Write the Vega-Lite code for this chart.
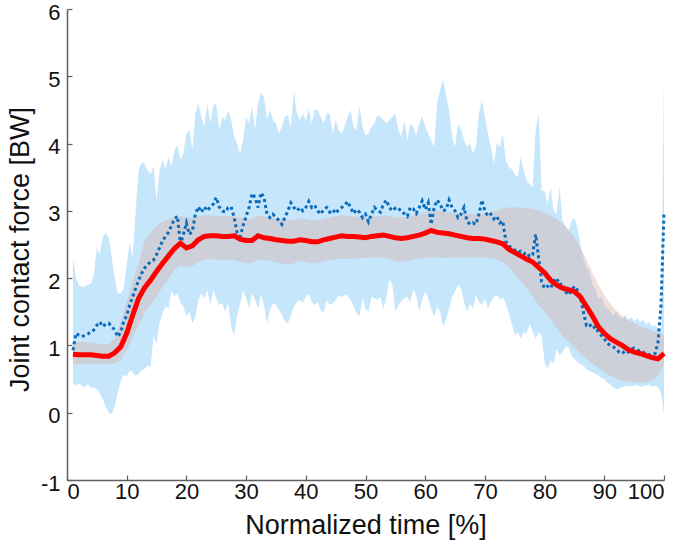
{
  "$schema": "https://vega.github.io/schema/vega-lite/v6.json",
  "autosize": "none",
  "width": 597,
  "height": 471,
  "padding": {"left": 67, "top": 9, "right": 21, "bottom": 64},
  "background": "white",
  "datasets": {
    "band": [
      {"x":1,"lo":0.45,"hi":2.3,"d":0.93},{"x":1.5,"lo":0.41,"hi":2.0,"d":1.18},{"x":2,"lo":0.43,"hi":1.9,"d":1.15},{"x":2.5,"lo":0.4,"hi":1.87,"d":1.13},
      {"x":3,"lo":0.38,"hi":1.88,"d":1.15},{"x":3.5,"lo":0.43,"hi":1.9,"d":1.17},{"x":4,"lo":0.36,"hi":1.92,"d":1.2},{"x":4.5,"lo":0.38,"hi":2.05,"d":1.23},
      {"x":5,"lo":0.35,"hi":2.45,"d":1.3},{"x":5.5,"lo":0.29,"hi":2.35,"d":1.35},{"x":6,"lo":0.2,"hi":2.62,"d":1.28},{"x":6.5,"lo":0.09,"hi":2.67,"d":1.32},
      {"x":7,"lo":0.0,"hi":2.6,"d":1.33},{"x":7.5,"lo":-0.02,"hi":2.3,"d":1.28},{"x":8,"lo":0.1,"hi":2.0,"d":1.23},{"x":8.5,"lo":0.3,"hi":1.78,"d":1.13},
      {"x":9,"lo":0.47,"hi":1.77,"d":1.2},{"x":9.5,"lo":0.56,"hi":1.85,"d":1.35},{"x":10,"lo":0.54,"hi":2.2,"d":1.45},{"x":10.5,"lo":0.63,"hi":2.54,"d":1.6},
      {"x":11,"lo":0.6,"hi":2.3,"d":1.72},{"x":11.5,"lo":0.55,"hi":3.0,"d":1.85},{"x":12,"lo":0.58,"hi":3.6,"d":1.97},{"x":12.5,"lo":0.63,"hi":3.72,"d":2.07},
      {"x":13,"lo":0.65,"hi":3.7,"d":2.15},{"x":13.5,"lo":0.7,"hi":3.6,"d":2.2},{"x":14,"lo":0.68,"hi":3.55,"d":2.25},{"x":14.5,"lo":1.13,"hi":3.66,"d":2.27},
      {"x":15,"lo":1.03,"hi":3.16,"d":2.35},{"x":15.5,"lo":1.33,"hi":3.6,"d":2.45},{"x":16,"lo":1.48,"hi":3.76,"d":2.55},{"x":16.5,"lo":1.58,"hi":3.62,"d":2.62},
      {"x":17,"lo":1.55,"hi":3.8,"d":2.68},{"x":17.5,"lo":1.82,"hi":3.65,"d":2.78},{"x":18,"lo":1.73,"hi":3.9,"d":2.88},{"x":18.5,"lo":1.77,"hi":3.98,"d":2.92},
      {"x":19,"lo":1.63,"hi":3.76,"d":2.5},{"x":19.5,"lo":1.58,"hi":3.85,"d":2.65},{"x":20,"lo":1.43,"hi":4.15,"d":2.82},{"x":20.5,"lo":1.5,"hi":4.2,"d":2.65},
      {"x":21,"lo":1.33,"hi":3.9,"d":2.7},{"x":21.5,"lo":1.42,"hi":4.45,"d":2.95},{"x":22,"lo":1.68,"hi":4.6,"d":3.06},{"x":22.5,"lo":1.77,"hi":4.4,"d":2.98},
      {"x":23,"lo":1.7,"hi":4.25,"d":3.06},{"x":23.5,"lo":1.82,"hi":4.6,"d":3.0},{"x":24,"lo":1.6,"hi":4.3,"d":3.06},{"x":24.5,"lo":1.82,"hi":4.57,"d":3.1},
      {"x":25,"lo":1.7,"hi":4.6,"d":3.2},{"x":25.5,"lo":1.6,"hi":4.2,"d":3.06},{"x":26,"lo":1.63,"hi":4.4,"d":3.0},{"x":26.5,"lo":1.5,"hi":4.35,"d":2.98},
      {"x":27,"lo":1.63,"hi":4.5,"d":3.05},{"x":27.5,"lo":1.28,"hi":4.35,"d":3.06},{"x":28,"lo":1.15,"hi":4.1,"d":2.9},{"x":28.5,"lo":1.45,"hi":4.0,"d":2.67},
      {"x":29,"lo":1.62,"hi":3.85,"d":2.62},{"x":29.5,"lo":1.82,"hi":4.05,"d":2.78},{"x":30,"lo":1.7,"hi":4.4,"d":2.92},{"x":30.5,"lo":1.55,"hi":4.3,"d":3.05},
      {"x":31,"lo":1.77,"hi":4.55,"d":3.26},{"x":31.5,"lo":1.68,"hi":4.2,"d":3.2},{"x":32,"lo":1.55,"hi":4.6,"d":3.05},{"x":32.5,"lo":1.75,"hi":4.75,"d":3.27},
      {"x":33,"lo":1.6,"hi":4.7,"d":3.2},{"x":33.5,"lo":1.33,"hi":4.35,"d":2.95},{"x":34,"lo":1.53,"hi":4.5,"d":2.9},{"x":34.5,"lo":1.63,"hi":4.35,"d":2.95},
      {"x":35,"lo":1.6,"hi":4.3,"d":2.9},{"x":35.5,"lo":1.53,"hi":4.15,"d":2.86},{"x":36,"lo":1.45,"hi":4.25,"d":2.8},{"x":36.5,"lo":1.36,"hi":4.4,"d":2.9},
      {"x":37,"lo":1.33,"hi":4.42,"d":3.0},{"x":37.5,"lo":1.45,"hi":4.25,"d":3.12},{"x":38,"lo":1.58,"hi":4.77,"d":3.05},{"x":38.5,"lo":1.65,"hi":4.45,"d":3.0},
      {"x":39,"lo":1.67,"hi":4.35,"d":3.05},{"x":39.5,"lo":1.63,"hi":4.45,"d":3.0},{"x":40,"lo":1.72,"hi":4.33,"d":3.05},{"x":40.5,"lo":1.77,"hi":4.52,"d":3.14},
      {"x":41,"lo":1.65,"hi":4.3,"d":3.05},{"x":41.5,"lo":1.6,"hi":4.5,"d":3.08},{"x":42,"lo":1.64,"hi":4.5,"d":3.0},{"x":42.5,"lo":1.52,"hi":4.4,"d":2.95},
      {"x":43,"lo":1.48,"hi":4.3,"d":3.02},{"x":43.5,"lo":1.68,"hi":4.45,"d":3.05},{"x":44,"lo":1.6,"hi":4.45,"d":2.98},{"x":44.5,"lo":1.63,"hi":4.15,"d":3.02},
      {"x":45,"lo":1.67,"hi":4.35,"d":2.96},{"x":45.5,"lo":1.74,"hi":4.2,"d":3.02},{"x":46,"lo":1.72,"hi":4.15,"d":3.05},{"x":46.5,"lo":1.75,"hi":4.25,"d":3.08},
      {"x":47,"lo":1.74,"hi":4.4,"d":3.14},{"x":47.5,"lo":1.68,"hi":4.5,"d":3.05},{"x":48,"lo":1.58,"hi":4.25,"d":2.96},{"x":48.5,"lo":1.48,"hi":4.2,"d":3.02},
      {"x":49,"lo":1.43,"hi":4.55,"d":2.98},{"x":49.5,"lo":1.7,"hi":4.25,"d":2.9},{"x":50,"lo":1.55,"hi":4.12,"d":2.95},{"x":50.5,"lo":1.5,"hi":4.15,"d":2.84},
      {"x":51,"lo":1.72,"hi":4.25,"d":2.95},{"x":51.5,"lo":1.7,"hi":4.3,"d":3.05},{"x":52,"lo":1.68,"hi":4.42,"d":3.0},{"x":52.5,"lo":1.72,"hi":4.4,"d":2.98},
      {"x":53,"lo":1.55,"hi":4.35,"d":3.1},{"x":53.5,"lo":1.72,"hi":4.3,"d":3.16},{"x":54,"lo":1.98,"hi":4.35,"d":3.05},{"x":54.5,"lo":1.9,"hi":4.4,"d":3.0},
      {"x":55,"lo":1.5,"hi":4.45,"d":3.04},{"x":55.5,"lo":1.6,"hi":4.2,"d":3.05},{"x":56,"lo":1.65,"hi":4.1,"d":2.98},{"x":56.5,"lo":1.7,"hi":4.35,"d":2.96},
      {"x":57,"lo":1.72,"hi":4.05,"d":2.92},{"x":57.5,"lo":1.65,"hi":4.3,"d":3.05},{"x":58,"lo":1.82,"hi":4.25,"d":3.03},{"x":58.5,"lo":1.75,"hi":4.12,"d":2.96},
      {"x":59,"lo":1.5,"hi":4.3,"d":3.05},{"x":59.5,"lo":1.68,"hi":4.4,"d":3.15},{"x":60,"lo":1.8,"hi":4.25,"d":3.02},{"x":60.5,"lo":1.7,"hi":4.15,"d":3.12},
      {"x":61,"lo":1.55,"hi":4.05,"d":2.8},{"x":61.5,"lo":1.43,"hi":3.95,"d":3.05},{"x":62,"lo":1.58,"hi":4.6,"d":3.16},{"x":62.5,"lo":1.5,"hi":4.8,"d":3.1},
      {"x":63,"lo":1.28,"hi":4.95,"d":3.0},{"x":63.5,"lo":1.4,"hi":4.72,"d":3.02},{"x":64,"lo":1.55,"hi":4.5,"d":3.16},{"x":64.5,"lo":1.72,"hi":4.1,"d":3.05},
      {"x":65,"lo":1.8,"hi":3.95,"d":3.0},{"x":65.5,"lo":1.9,"hi":4.3,"d":2.9},{"x":66,"lo":1.85,"hi":4.2,"d":2.95},{"x":66.5,"lo":1.65,"hi":4.05,"d":3.05},
      {"x":67,"lo":1.5,"hi":3.95,"d":2.85},{"x":67.5,"lo":1.62,"hi":4.0,"d":2.8},{"x":68,"lo":1.55,"hi":3.85,"d":2.82},{"x":68.5,"lo":1.75,"hi":3.95,"d":2.8},
      {"x":69,"lo":1.65,"hi":4.45,"d":2.95},{"x":69.5,"lo":1.6,"hi":4.65,"d":3.16},{"x":70,"lo":1.7,"hi":4.4,"d":3.0},{"x":70.5,"lo":1.55,"hi":4.15,"d":2.92},
      {"x":71,"lo":1.65,"hi":3.95,"d":2.95},{"x":71.5,"lo":1.72,"hi":3.7,"d":2.88},{"x":72,"lo":1.75,"hi":4.0,"d":2.92},{"x":72.5,"lo":1.68,"hi":3.95,"d":2.82},
      {"x":73,"lo":1.72,"hi":4.15,"d":2.85},{"x":73.5,"lo":1.62,"hi":3.75,"d":2.55},{"x":74,"lo":1.48,"hi":3.65,"d":2.48},{"x":74.5,"lo":1.33,"hi":3.62,"d":2.45},
      {"x":75,"lo":1.15,"hi":3.55,"d":2.42},{"x":75.5,"lo":1.2,"hi":3.5,"d":2.38},{"x":76,"lo":1.1,"hi":3.8,"d":2.4},{"x":76.5,"lo":1.2,"hi":3.6,"d":2.36},
      {"x":77,"lo":1.18,"hi":3.45,"d":2.38},{"x":77.5,"lo":1.33,"hi":3.4,"d":2.32},{"x":78,"lo":1.2,"hi":3.35,"d":2.35},{"x":78.5,"lo":1.1,"hi":4.2,"d":2.65},
      {"x":79,"lo":1.2,"hi":4.45,"d":2.3},{"x":79.5,"lo":1.15,"hi":3.3,"d":1.95},{"x":80,"lo":0.75,"hi":3.3,"d":1.85},{"x":80.5,"lo":0.65,"hi":3.1,"d":1.88},
      {"x":81,"lo":0.78,"hi":3.35,"d":1.85},{"x":81.5,"lo":0.72,"hi":3.0,"d":1.95},{"x":82,"lo":0.95,"hi":2.95,"d":2.0},{"x":82.5,"lo":0.85,"hi":3.35,"d":1.9},
      {"x":83,"lo":0.9,"hi":2.85,"d":1.92},{"x":83.5,"lo":0.98,"hi":2.78,"d":1.8},{"x":84,"lo":0.98,"hi":2.7,"d":1.75},{"x":84.5,"lo":0.85,"hi":2.85,"d":1.82},
      {"x":85,"lo":0.8,"hi":2.9,"d":1.88},{"x":85.5,"lo":0.75,"hi":2.75,"d":1.82},{"x":86,"lo":0.72,"hi":2.5,"d":1.72},{"x":86.5,"lo":0.7,"hi":2.3,"d":1.5},
      {"x":87,"lo":0.65,"hi":2.15,"d":1.3},{"x":87.5,"lo":0.62,"hi":2.1,"d":1.32},{"x":88,"lo":0.6,"hi":1.9,"d":1.25},{"x":88.5,"lo":0.58,"hi":1.85,"d":1.28},
      {"x":89,"lo":0.55,"hi":1.7,"d":1.2},{"x":89.5,"lo":0.52,"hi":1.72,"d":1.15},{"x":90,"lo":0.5,"hi":1.6,"d":1.1},{"x":90.5,"lo":0.45,"hi":1.55,"d":1.03},
      {"x":91,"lo":0.42,"hi":1.5,"d":1.0},{"x":91.5,"lo":0.38,"hi":1.45,"d":0.98},{"x":92,"lo":0.35,"hi":1.5,"d":0.94},{"x":92.5,"lo":0.36,"hi":1.42,"d":0.9},
      {"x":93,"lo":0.38,"hi":1.4,"d":0.88},{"x":93.5,"lo":0.4,"hi":1.45,"d":0.92},{"x":94,"lo":0.39,"hi":1.38,"d":0.9},{"x":94.5,"lo":0.4,"hi":1.42,"d":0.95},
      {"x":95,"lo":0.4,"hi":1.36,"d":0.96},{"x":95.5,"lo":0.42,"hi":1.4,"d":0.93},{"x":96,"lo":0.38,"hi":1.35,"d":0.92},{"x":96.5,"lo":0.4,"hi":1.38,"d":0.9},
      {"x":97,"lo":0.4,"hi":1.32,"d":0.87},{"x":97.5,"lo":0.42,"hi":1.35,"d":0.86},{"x":98,"lo":0.39,"hi":1.28,"d":0.88},{"x":98.5,"lo":0.4,"hi":1.3,"d":0.88},
      {"x":99,"lo":0.38,"hi":1.25,"d":1.05},{"x":99.5,"lo":0.3,"hi":1.22,"d":1.6},{"x":100,"lo":-0.02,"hi":5.0,"d":2.97}
    ],
    "stat": [
      {"x":1,"m":0.87,"sl":0.72,"sh":1.05},{"x":2,"m":0.86,"sl":0.72,"sh":1.05},{"x":3,"m":0.86,"sl":0.72,"sh":1.05},{"x":4,"m":0.86,"sl":0.72,"sh":1.04},
      {"x":5,"m":0.85,"sl":0.72,"sh":1.03},{"x":6,"m":0.84,"sl":0.72,"sh":1.02},{"x":7,"m":0.84,"sl":0.73,"sh":1.02},{"x":8,"m":0.89,"sl":0.74,"sh":1.1},
      {"x":9,"m":0.98,"sl":0.78,"sh":1.35},{"x":10,"m":1.18,"sl":0.93,"sh":1.65},{"x":11,"m":1.45,"sl":1.12,"sh":1.95},{"x":12,"m":1.7,"sl":1.3,"sh":2.22},
      {"x":13,"m":1.86,"sl":1.48,"sh":2.55},{"x":14,"m":1.97,"sl":1.6,"sh":2.67},{"x":15,"m":2.1,"sl":1.73,"sh":2.77},{"x":16,"m":2.22,"sl":1.87,"sh":2.84},
      {"x":17,"m":2.33,"sl":1.99,"sh":2.88},{"x":18,"m":2.44,"sl":2.12,"sh":2.9},{"x":19,"m":2.52,"sl":2.2,"sh":2.92},{"x":20,"m":2.45,"sl":2.15,"sh":2.9},
      {"x":21,"m":2.48,"sl":2.18,"sh":2.9},{"x":22,"m":2.57,"sl":2.24,"sh":2.92},{"x":23,"m":2.62,"sl":2.27,"sh":2.93},{"x":24,"m":2.63,"sl":2.28,"sh":2.93},
      {"x":25,"m":2.63,"sl":2.28,"sh":2.92},{"x":26,"m":2.62,"sl":2.27,"sh":2.92},{"x":27,"m":2.62,"sl":2.27,"sh":2.92},{"x":28,"m":2.63,"sl":2.27,"sh":2.92},
      {"x":29,"m":2.58,"sl":2.24,"sh":2.9},{"x":30,"m":2.56,"sl":2.22,"sh":2.88},{"x":31,"m":2.56,"sl":2.22,"sh":2.88},{"x":32,"m":2.63,"sl":2.28,"sh":2.93},
      {"x":33,"m":2.6,"sl":2.27,"sh":2.92},{"x":34,"m":2.59,"sl":2.26,"sh":2.9},{"x":35,"m":2.57,"sl":2.24,"sh":2.88},{"x":36,"m":2.56,"sl":2.22,"sh":2.87},
      {"x":37,"m":2.55,"sl":2.2,"sh":2.86},{"x":38,"m":2.55,"sl":2.22,"sh":2.87},{"x":39,"m":2.57,"sl":2.25,"sh":2.89},{"x":40,"m":2.56,"sl":2.24,"sh":2.88},
      {"x":41,"m":2.54,"sl":2.22,"sh":2.86},{"x":42,"m":2.54,"sl":2.22,"sh":2.86},{"x":43,"m":2.57,"sl":2.25,"sh":2.88},{"x":44,"m":2.59,"sl":2.27,"sh":2.9},
      {"x":45,"m":2.61,"sl":2.28,"sh":2.92},{"x":46,"m":2.63,"sl":2.29,"sh":2.93},{"x":47,"m":2.62,"sl":2.29,"sh":2.92},{"x":48,"m":2.62,"sl":2.29,"sh":2.92},
      {"x":49,"m":2.61,"sl":2.3,"sh":2.91},{"x":50,"m":2.6,"sl":2.3,"sh":2.9},{"x":51,"m":2.62,"sl":2.3,"sh":2.91},{"x":52,"m":2.63,"sl":2.31,"sh":2.92},
      {"x":53,"m":2.64,"sl":2.3,"sh":2.93},{"x":54,"m":2.62,"sl":2.28,"sh":2.92},{"x":55,"m":2.6,"sl":2.26,"sh":2.9},{"x":56,"m":2.59,"sl":2.24,"sh":2.9},
      {"x":57,"m":2.6,"sl":2.26,"sh":2.91},{"x":58,"m":2.62,"sl":2.28,"sh":2.93},{"x":59,"m":2.64,"sl":2.29,"sh":2.95},{"x":60,"m":2.67,"sl":2.3,"sh":2.98},
      {"x":61,"m":2.71,"sl":2.31,"sh":3.02},{"x":62,"m":2.68,"sl":2.31,"sh":3.0},{"x":63,"m":2.67,"sl":2.3,"sh":2.99},{"x":64,"m":2.66,"sl":2.3,"sh":2.98},
      {"x":65,"m":2.64,"sl":2.31,"sh":2.97},{"x":66,"m":2.62,"sl":2.3,"sh":2.96},{"x":67,"m":2.6,"sl":2.3,"sh":2.95},{"x":68,"m":2.59,"sl":2.31,"sh":2.95},
      {"x":69,"m":2.59,"sl":2.31,"sh":2.95},{"x":70,"m":2.58,"sl":2.31,"sh":2.96},{"x":71,"m":2.56,"sl":2.3,"sh":2.98},{"x":72,"m":2.54,"sl":2.28,"sh":3.0},
      {"x":73,"m":2.51,"sl":2.24,"sh":3.04},{"x":74,"m":2.43,"sl":2.17,"sh":3.05},{"x":75,"m":2.38,"sl":2.06,"sh":3.05},{"x":76,"m":2.33,"sl":1.96,"sh":3.05},
      {"x":77,"m":2.28,"sl":1.85,"sh":3.04},{"x":78,"m":2.24,"sl":1.73,"sh":3.03},{"x":79,"m":2.16,"sl":1.6,"sh":3.0},{"x":80,"m":2.08,"sl":1.5,"sh":2.97},
      {"x":81,"m":1.97,"sl":1.39,"sh":2.93},{"x":82,"m":1.9,"sl":1.26,"sh":2.88},{"x":83,"m":1.85,"sl":1.14,"sh":2.8},{"x":84,"m":1.83,"sl":1.06,"sh":2.72},
      {"x":85,"m":1.8,"sl":0.97,"sh":2.6},{"x":86,"m":1.72,"sl":0.88,"sh":2.45},{"x":87,"m":1.58,"sl":0.8,"sh":2.28},{"x":88,"m":1.44,"sl":0.73,"sh":2.08},
      {"x":89,"m":1.28,"sl":0.66,"sh":1.9},{"x":90,"m":1.18,"sl":0.6,"sh":1.75},{"x":91,"m":1.1,"sl":0.55,"sh":1.62},{"x":92,"m":1.05,"sl":0.51,"sh":1.52},
      {"x":93,"m":1.0,"sl":0.48,"sh":1.44},{"x":94,"m":0.94,"sl":0.46,"sh":1.38},{"x":95,"m":0.9,"sl":0.45,"sh":1.33},{"x":96,"m":0.88,"sl":0.44,"sh":1.28},
      {"x":97,"m":0.85,"sl":0.45,"sh":1.25},{"x":98,"m":0.82,"sl":0.47,"sh":1.22},{"x":99,"m":0.8,"sl":0.55,"sh":1.2},{"x":100,"m":0.88,"sl":0.72,"sh":1.15}
    ]
  },
  "encoding": {
    "x": {
      "field": "x", "type": "quantitative",
      "scale": {"domain": [0, 100], "nice": false, "zero": false},
      "axis": {
        "title": "Normalized time [%]",
        "values": [0, 10, 20, 30, 40, 50, 60, 70, 80, 90, 100],
        "labelPadding": 6,
        "titleBaseline": "alphabetic",
        "titleY": 53
      }
    }
  },
  "layer": [
    {
      "data": {"name": "band"},
      "mark": {"type": "area", "color": "#c6e6fb", "opacity": 1},
      "encoding": {
        "y": {
          "field": "lo", "type": "quantitative",
          "scale": {"domain": [-1, 6], "nice": false, "zero": false},
          "axis": {
            "title": "Joint contact force [BW]",
            "values": [-1, 0, 1, 2, 3, 4, 5, 6],
            "labelExpr": "'' + datum.value",
            "labelPadding": 12,
            "labelOffset": 3,
            "titleBaseline": "middle",
            "titleAlign": "center",
            "titleX": -47,
            "titleY": 240
          }
        },
        "y2": {"field": "hi"}
      }
    },
    {
      "data": {"name": "stat"},
      "mark": {"type": "area", "color": "#d9a49a", "opacity": 0.35},
      "encoding": {
        "y": {"field": "sl", "type": "quantitative"},
        "y2": {"field": "sh"}
      }
    },
    {
      "data": {"name": "band"},
      "mark": {"type": "line", "color": "#0a6cb8", "strokeWidth": 3, "strokeDash": [3, 3]},
      "encoding": {
        "y": {"field": "d", "type": "quantitative"}
      }
    },
    {
      "data": {"name": "stat"},
      "mark": {"type": "line", "color": "#ff0000", "strokeWidth": 5},
      "encoding": {
        "y": {"field": "m", "type": "quantitative"}
      }
    }
  ],
  "config": {
    "view": {"stroke": null},
    "axis": {
      "grid": false,
      "domainColor": "#606060",
      "domainWidth": 1.5,
      "tickColor": "#606060",
      "tickWidth": 1.2,
      "tickSize": -5,
      "labelFont": "Liberation Sans",
      "labelFontSize": 22,
      "labelColor": "#111111",
      "titleFont": "Liberation Sans",
      "titleFontSize": 27,
      "titleFontWeight": "normal",
      "titleColor": "#111111"
    }
  }
}
